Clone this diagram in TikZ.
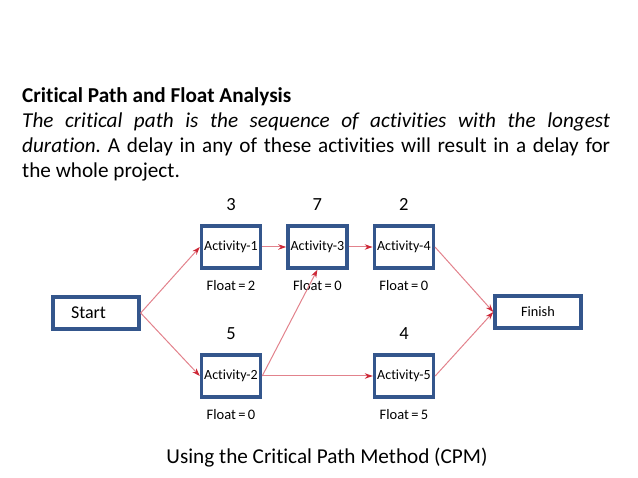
\documentclass[tikz,border=0pt]{standalone}
\usepackage{fontspec}
\setmainfont{Carlito}[Ligatures=NoCommon]
\usepackage{tikz}
\usetikzlibrary{arrows.meta,positioning}
\definecolor{boxblue}{RGB}{52,86,140}
\definecolor{linkpink}{RGB}{226,130,140}
\definecolor{tipred}{RGB}{205,40,55}
\tikzstyle{activity}=[
	rectangle,
	draw=boxblue,
	line width=3.4pt,
	fill=white,
	inner sep=1pt,
	minimum width=59pt,
	minimum height=42pt,
	font=\fontsize{14}{16}\selectfont]
\tikzstyle{terminal}=[
	activity,
	minimum width=86pt,
	minimum height=32pt]
\tikzstyle{link}=[
	draw=linkpink,
	line width=1pt,
	-{Stealth[length=8pt,width=5.5pt,color=tipred]}]
\tikzstyle{dur}=[font=\fontsize{18.5}{20}\selectfont]
\tikzstyle{flt}=[font=\fontsize{14.5}{16}\selectfont]

\begin{document}
\frenchspacing
\begin{tikzpicture}[x=1pt,y=-1pt]
		\useasboundingbox (0,0) rectangle (638,478);
		% text above
		\node[anchor=north west,inner sep=0,text width=588pt,align=justify,
			font=\fontsize{21.2}{25}\selectfont] (intro) at (22,87)
			{\textbf{Critical Path and Float Analysis}\\
			\textit{The critical path is the sequence of activities with the longest}\linebreak
			\textit{duration.} A delay in any of these activities will result in a delay for\linebreak
			the whole project.};
		% network
		\begin{scope}[node distance=24pt]
			\node[terminal,font=\fontsize{18}{20}\selectfont,
				text width=50pt,inner xsep=18pt,align=left] (start) at (96,313) {Start};
			\node[activity] (act1) at (231,247) {Activity-1};
			\node[activity] (act3) [right=of act1] {Activity-3};
			\node[activity] (act4) [right=of act3] {Activity-4};
			\node[activity] (act2) at (231,376) {Activity-2};
			\node[activity] (act5) at (404,376) {Activity-5};
			\node[terminal,font=\fontsize{14.3}{16}\selectfont] (finish) at (538,312) {Finish};
		\end{scope}
		% durations and floats
		\node[dur] (d1) [above=10pt of act1] {3};
		\node[dur] (d3) [above=10pt of act3] {7};
		\node[dur] (d4) [above=10pt of act4] {2};
		\node[dur] (d2) [above=10pt of act2] {5};
		\node[dur] (d5) [above=10pt of act5] {4};
		\begin{scope}[node distance=7pt]
			\node[flt] (f1) [below=of act1] {Float\,=\,2};
			\node[flt] (f3) [below=of act3] {Float\,=\,0};
			\node[flt] (f4) [below=of act4] {Float\,=\,0};
			\node[flt] (f2) [below=of act2] {Float\,=\,0};
			\node[flt] (f5) [below=of act5] {Float\,=\,5};
		\end{scope}
		\draw[link] (start.east) -- (act1.west);
		\draw[link] (start.east) -- (act2.west);
		\draw[link] (act1) -- (act3);
		\draw[link] (act3) -- (act4);
		\draw[link] (act2.east) -- (act3.south);
		\draw[link] (act2) -- (act5);
		\draw[link] (act4.east) -- (finish.west);
		\draw[link] (act5.east) -- (finish.west);
		\node[font=\fontsize{21.2}{24}\selectfont,anchor=base] (caption) at (327,463.5)
			{Using the Critical Path Method (CPM)};
	\end{tikzpicture}
\end{document}
